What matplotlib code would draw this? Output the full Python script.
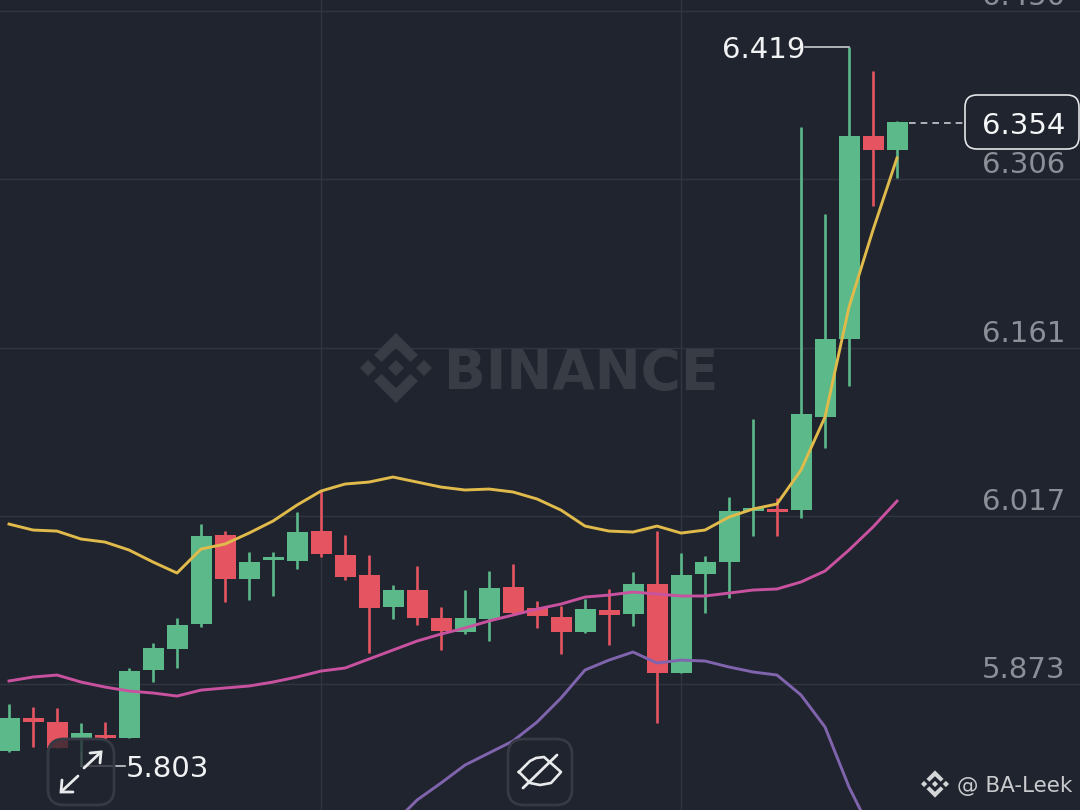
import numpy as np
import matplotlib
matplotlib.use("Agg")
import matplotlib.pyplot as plt
from matplotlib.patches import FancyBboxPatch, Polygon
from matplotlib.transforms import Affine2D

plt.rcParams["font.family"] = ["DejaVu Sans"]

BG = "#20242e"
GRID = "#30353f"
GREEN = "#5bb98a"
RED = "#e45561"
YELLOW = "#e0ba4b"
PINK = "#c8529f"
PURPLE = "#8064ae"

opens = [5.8160, 5.8443, 5.8408, 5.8254, 5.8297, 5.8271, 5.8854, 5.9034, 5.9248, 6.0010,
         5.9633, 5.9796, 5.9788, 6.0044, 5.9839, 5.9668, 5.9393, 5.9539, 5.9299, 5.9179,
         5.9291, 5.9565, 5.9385, 5.9308, 5.9179, 5.9368, 5.9333, 5.9590, 5.8828, 5.9676,
         5.9779, 6.0216, 6.0233, 6.0224, 6.1021, 6.1689, 6.3428, 6.3308]
closes = [5.8443, 5.8408, 5.8186, 5.8314, 5.8271, 5.8845, 5.9042, 5.9239, 6.0002, 5.9633,
          5.9779, 5.9822, 6.0036, 5.9847, 5.9650, 5.9385, 5.9539, 5.9299, 5.9188, 5.9299,
          5.9556, 5.9342, 5.9316, 5.9179, 5.9376, 5.9325, 5.9590, 5.8828, 5.9668, 5.9779,
          6.0216, 6.0241, 6.0207, 6.1047, 6.1689, 6.3428, 6.3308, 6.3548]
highs = [5.8563, 5.8537, 5.8528, 5.8400, 5.8408, 5.8871, 5.9085, 5.9299, 6.0104, 6.0044,
         5.9865, 5.9865, 6.0207, 6.0396, 6.0010, 5.9839, 5.9582, 5.9745, 5.9393, 5.9539,
         5.9702, 5.9762, 5.9445, 5.9402, 5.9462, 5.9548, 5.9693, 6.0044, 5.9856, 5.9830,
         6.0336, 6.1004, 6.0327, 6.3505, 6.2760, 6.4190, 6.3985, 6.3556]
lows = [5.8151, 5.8194, 5.8186, 5.8030, 5.8254, 5.8271, 5.8751, 5.8871, 5.9222, 5.9436,
        5.9453, 5.9488, 5.9719, 5.9822, 5.9625, 5.8999, 5.9291, 5.9239, 5.9025, 5.9162,
        5.9102, 5.9325, 5.9214, 5.8994, 5.9171, 5.9068, 5.9231, 5.8400, 5.8828, 5.9342,
        5.9470, 6.0002, 6.0002, 6.0156, 6.0755, 6.1287, 6.2828, 6.3068]

upper_band = [6.0104, 6.0053, 6.0044, 5.9976, 5.9950, 5.9882, 5.9779, 5.9685, 5.9890, 5.9933,
              6.0027, 6.0130, 6.0267, 6.0387, 6.0447, 6.0464, 6.0507, 6.0464, 6.0421, 6.0396,
              6.0404, 6.0379, 6.0319, 6.0224, 6.0087, 6.0044, 6.0036, 6.0087, 6.0027, 6.0053,
              6.0164, 6.0233, 6.0276, 6.0567, 6.1021, 6.1963, 6.2623, 6.3240]
middle_band = [5.8760, 5.8794, 5.8811, 5.8751, 5.8708, 5.8674, 5.8657, 5.8631, 5.8682, 5.8700,
               5.8717, 5.8751, 5.8794, 5.8845, 5.8871, 5.8948, 5.9025, 5.9102, 5.9162, 5.9214,
               5.9274, 5.9325, 5.9376, 5.9419, 5.9479, 5.9496, 5.9522, 5.9505, 5.9488, 5.9488,
               5.9513, 5.9539, 5.9548, 5.9608, 5.9702, 5.9882, 6.0079, 6.0301]
lower_band = [np.nan] * 16 + [5.7535, 5.7740, 5.7886, 5.8040, 5.8143, 5.8246, 5.8408, 5.8614, 5.8854,
                              5.8939, 5.9008, 5.8914, 5.8939, 5.8931, 5.8880, 5.8837, 5.8811, 5.8640,
                              5.8366, 5.7852, 5.7440, 5.7055]

y_ticks = [5.873, 6.017, 6.161, 6.306, 6.450]
y_labels = ["5.873", "6.017", "6.161", "6.306", "6.450"]
v_grid = [13, 28]
high_price, high_idx = 6.419, 35
low_price, low_idx = 5.803, 3
last_price = 6.354

fig = plt.figure(figsize=(10.8, 8.1), dpi=100, facecolor=BG)
ax = fig.add_axes([0, 0, 1, 1], facecolor=BG)
ax.set_xlim(-0.375, 44.625)
ax.set_ylim(5.7655, 6.4593)
ax.axis("off")
pix = Affine2D().scale(1, -1).translate(0, 810)

for t in y_ticks:
    ax.axhline(t, color=GRID, lw=1.0, zorder=1)
for v in v_grid:
    ax.axvline(v, color=GRID, lw=1.0, zorder=1)


def logo(cx, cy, r, color, zorder):
    s = r / 36.0
    def P(pts):
        return Polygon([(cx + a * s, cy + b * s) for a, b in pts], closed=True, fc=color, ec="none",
                       transform=pix, zorder=zorder)
    for off in (-28, 0, 28):
        ax.add_patch(P([(off - 8, 0), (off, -8), (off + 8, 0), (off, 8)]))
    for sgn in (-1, 1):
        ax.add_patch(P([(0, sgn * 35), (22, sgn * 13), (14.5, sgn * 6), (0, sgn * 20),
                        (-14.5, sgn * 6), (-22, sgn * 13)]))


logo(396, 368, 36, "#383c45", 2)
ax.text(444, 368, "BINANCE", transform=pix, color="#383c45", fontsize=39.5, fontweight="bold",
        ha="left", va="center_baseline", zorder=2)

for t, lab in zip(y_ticks, y_labels):
    ax.annotate(lab, xy=(44.0, t), xytext=(0, 17), textcoords="offset pixels", color="#8b8f97",
                fontsize=21, ha="right", va="center_baseline", zorder=6, annotation_clip=False)

x = np.arange(len(opens))
for i, o, c, h, l in zip(x, opens, closes, highs, lows):
    col = GREEN if c >= o else RED
    ax.plot([i, i], [l, h], color=col, lw=1.9, solid_capstyle="butt", zorder=3)
    ax.bar(i, abs(c - o), bottom=min(o, c), width=0.875, color=col, linewidth=0, zorder=3)

ax.plot(x, upper_band, color=YELLOW, lw=2.1, zorder=4, solid_joinstyle="round")
ax.plot(x, middle_band, color=PINK, lw=2.1, zorder=4, solid_joinstyle="round")
ax.plot(x, lower_band, color=PURPLE, lw=2.1, zorder=4, solid_joinstyle="round")

# high / low leaders
ax.plot([high_idx - 1.83, high_idx], [high_price, high_price], color="#c8cacd", lw=1.2, zorder=5)
ax.text(high_idx - 1.83, high_price, f"{high_price:.3f}", color="#f1f2f3", fontsize=21,
        ha="right", va="center_baseline", zorder=6)
ax.plot([low_idx, low_idx + 1.85], [low_price, low_price], color="#c8cacd", lw=1.2, zorder=5)
ax.plot([low_idx, low_idx], [low_price, low_price + 0.012], color="#c8cacd", lw=1.0, zorder=3.5)
ax.text(low_idx + 1.85, low_price, f"{low_price:.3f}", color="#f1f2f3", fontsize=21,
        ha="left", va="center_baseline", zorder=6)

# last price
ax.plot([37.5, 39.75], [last_price, last_price], color="#c8cacd", lw=1.2, ls=(0, (4, 3)), zorder=5)
ax.add_patch(FancyBboxPatch((977, 107), 90, 30, boxstyle="round,pad=12,rounding_size=12",
                            fc=BG, ec="#e4e5e8", lw=1.2, transform=pix, zorder=7))
ax.annotate(f"{last_price:.3f}", xy=(44.0, last_price), xytext=(0, 0), textcoords="offset pixels",
            color="#f4f5f6", fontsize=21, ha="right", va="center_baseline", zorder=8)

# buttons
for bx, bw in ((48, 66), (508, 64)):
    ax.add_patch(FancyBboxPatch((bx + 16, 755), bw - 32, 34, boxstyle="round,pad=16,rounding_size=16",
                                fc=BG, ec="none", alpha=0.75, transform=pix, zorder=5.5))
    ax.add_patch(FancyBboxPatch((bx + 16, 755), bw - 32, 34, boxstyle="round,pad=16,rounding_size=16",
                                fc="none", ec="#363a45", lw=2.0, transform=pix, zorder=5.6))

ICON = "#e9eaec"
for seg in ([(84, 768), (101, 752)], [(90, 753), (101, 752), (100, 763)],
            [(78, 776), (62, 791)], [(62, 780), (61, 792), (73, 792)],
            [(557, 755), (523, 788)]):
    xs, ys = zip(*seg)
    ax.plot(xs, ys, color=ICON, lw=2.0, transform=pix, zorder=6, solid_capstyle="round",
            solid_joinstyle="miter")
eye = [(519, 772), (530, 761), (536, 758), (544, 757), (561, 772), (551, 783), (540, 785), (530, 783), (519, 772)]
ax.plot(*zip(*eye), color=ICON, lw=1.9, transform=pix, zorder=6, solid_joinstyle="round")

# signature
logo(935, 784, 14, "#d4d5d7", 6)
ax.text(1072, 784, "@ BA-Leek", transform=pix, color="#c8cacd", fontsize=15.5, ha="right",
        va="center_baseline", zorder=6)

fig.savefig("out.png", dpi=100, facecolor=BG)
